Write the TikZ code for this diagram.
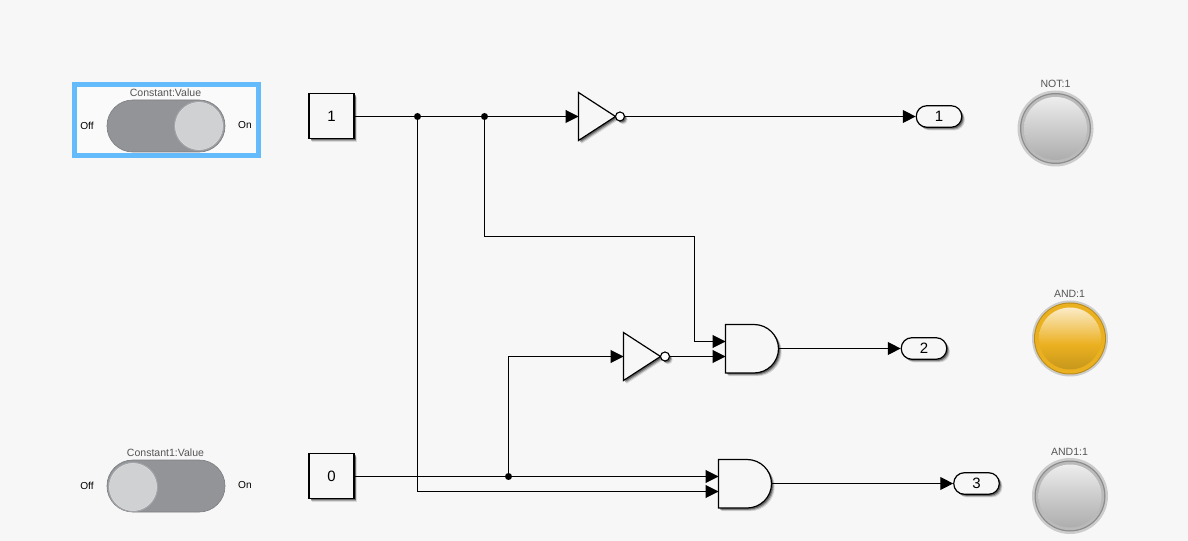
\documentclass[tikz,border=0pt]{standalone}
\usepackage{fontspec}
\setmainfont{Liberation Sans}
\usetikzlibrary{arrows.meta,shadows,calc}
\definecolor{bgc}{HTML}{F7F7F7}
\definecolor{selc}{HTML}{64BBFC}
\definecolor{trackc}{HTML}{939497}
\definecolor{trackedge}{HTML}{7F8083}
\definecolor{knobc}{HTML}{D0D1D3}
\definecolor{lblc}{HTML}{555555}
\definecolor{ambring}{HTML}{EBB020}
\definecolor{ambedge}{HTML}{B98C1A}
\definecolor{ambtop}{HTML}{FBEBC6}
\definecolor{ambbot}{HTML}{C6981C}
\pgfdeclareverticalshading{ambshade}{100bp}{color(0bp)=(ambbot); color(25bp)=(ambbot); color(45bp)=(ambring); color(75bp)=(ambtop); color(100bp)=(ambtop)}
\def\pxu{0.75pt}
\tikzset{
  x=0.75pt,y=-0.75pt,
  softshadow/.style={
    general shadow={shadow xshift=3.2*\pxu,shadow yshift=-3.2*\pxu,opacity=.12,fill=black,draw=none},
    general shadow={shadow xshift=2.4*\pxu,shadow yshift=-2.4*\pxu,opacity=.22,fill=black,draw=none},
    general shadow={shadow xshift=1.5*\pxu,shadow yshift=-1.5*\pxu,opacity=.38,fill=black,draw=none}},
  wire/.style={draw=black,line width=0.75pt},
  arrowwire/.style={wire,-{Triangle[length=9.6pt,width=9.6pt,fill=black]}},
  block/.style={draw=black,line width=0.9pt,fill=bgc,softshadow},
  constbox/.style={block,rectangle,inner sep=0pt,minimum width=45*\pxu,minimum height=45*\pxu,font=\fontsize{11.25pt}{12pt}\selectfont},
  outport/.style={block,rounded corners=10.5*\pxu,rectangle,inner sep=0pt,minimum width=45.5*\pxu,minimum height=21.5*\pxu,font=\fontsize{11.25pt}{12pt}\selectfont},
  junction/.style={circle,fill=black,inner sep=0pt,minimum size=7*\pxu},
  bubble/.style={circle,draw=black,line width=0.85pt,fill=white,inner sep=0pt,minimum size=9*\pxu,softshadow},
  smalltxt/.style={font=\fontsize{7.9pt}{9pt}\selectfont,text=lblc,inner sep=0pt},
  sidetxt/.style={font=\fontsize{7.6pt}{9pt}\selectfont,text=black,inner sep=0pt},
  track/.style={rounded corners=25.9*\pxu,fill=trackc,draw=trackedge,line width=0.5pt},
  knob/.style={circle,inner sep=0pt,minimum size=48*\pxu,fill=knobc,draw=white!85!knobc,line width=0.5pt},
}
\begin{document}
\begin{tikzpicture}
\useasboundingbox (0,0) rectangle (1188,541);
\fill[bgc] (0,0) rectangle (1188,541);

% --- toggle switches
\draw[selc,line width=3.2pt,fill=bgc!60!white] (74.5,84.5) rectangle (258.5,155.5);
\node[smalltxt] (clab) at (165.5,92.5) {Constant:Value};
\node[sidetxt] (coff) at (87,125.5) {Off};
\node[sidetxt] (con) at (245,125.5) {On};
\draw[track] (107,100) rectangle (225,152);
\node[knob] (cknob) at (199,126) {};
\draw[trackc!85!white,line width=0.9pt] (cknob) circle[radius=24.5];

\node[smalltxt] (c1lab) at (165.5,452.5) {Constant1:Value};
\node[sidetxt] (c1off) at (87,485.5) {Off};
\node[sidetxt] (c1on) at (245,485.5) {On};
\draw[track] (107,460) rectangle (225,512);
\node[knob] (c1knob) at (133,487) {};
\draw[trackc!85!white,line width=0.9pt] (c1knob) circle[radius=24.5];

% --- constants
\node[constbox] (b1) at (331.5,116) {1};
\node[constbox] (b0) at (331.5,476) {0};

% --- NOT gates
\draw[block] (578.5,92.5) -- (615.5,116.5) -- (578.5,140.5) -- cycle;
\coordinate (n1in) at (578.5,116.5);
\node[bubble] (n1b) at (620,116.5) {};
\draw[block] (623.5,332.5) -- (660.5,356.5) -- (623.5,380.5) -- cycle;
\coordinate (n2in) at (623.5,356.5);
\node[bubble] (n2b) at (665,356.5) {};

% --- AND gates
\draw[block] (725.5,324.5) -- (754,324.5) arc[start angle=-90,end angle=90,x radius=24.5,y radius=24.25] -- (725.5,373) -- cycle;
\coordinate (a1i1) at (725.5,341.5);
\coordinate (a1i2) at (725.5,356.5);
\coordinate (a1o) at (778.5,348.5);
\draw[block] (718.5,459.5) -- (747,459.5) arc[start angle=-90,end angle=90,x radius=24.5,y radius=24.25] -- (718.5,508) -- cycle;
\coordinate (a2i1) at (718.5,476.5);
\coordinate (a2i2) at (718.5,491.5);
\coordinate (a2o) at (771.5,483.5);

% --- outports
\node[outport] (o1) at (939,116.5) {1};
\node[outport] (o2) at (924,348.5) {2};
\node[outport] (o3) at (976.5,483.5) {3};

% --- junctions
\node[junction] (j1) at (417.5,116.5) {};
\node[junction] (j2) at (484.5,116.5) {};
\node[junction] (j3) at (508.5,476.5) {};

% --- wires
\coordinate (b1o) at (354,116.5);
\coordinate (b0o) at (354,476.5);
\draw[wire] (b1o) -- (j1);
\draw[wire] (j1) -- (j2);
\draw[arrowwire] (j2) -- (n1in);
\coordinate (bend) at (694.5,236.5);
\draw[arrowwire] (j2) |- (bend) |- (a1i1);
\draw[arrowwire] (j1) |- (a2i2);
\draw[wire] (b0o) -- (j3);
\draw[arrowwire] (j3) -- (a2i1);
\draw[arrowwire] (j3) |- (n2in);
\draw[arrowwire] (n2b.east) -- (a1i2);
\draw[arrowwire] (n1b.east) -- (o1.west);
\draw[arrowwire] (a1o) -- (o2.west);
\draw[arrowwire] (a2o) -- (o3.west);

% --- lamps
\node[smalltxt] (l1lab) at (1055.5,84) {NOT:1};
\fill[black!20] (1055.5,128.5) circle[radius=38];
\fill[black!45] (1055.5,128.5) circle[radius=35.5];
\fill[black!27] (1055.5,128.5) circle[radius=34.2];
\shade[top color=black!7,bottom color=black!32,middle color=black!20] (1055.5,128.5) circle[radius=31.5];

\node[smalltxt] (l2lab) at (1069.5,293.5) {AND:1};
\fill[black!20] (1070,338.5) circle[radius=38];
\fill[ambedge] (1070,338.5) circle[radius=36];
\fill[ambring] (1070,338.5) circle[radius=35];
\shade[shading=ambshade] (1070,338.5) circle[radius=31];

\node[smalltxt] (l3lab) at (1069.5,451.5) {AND1:1};
\fill[black!20] (1070,496) circle[radius=38];
\fill[black!45] (1070,496) circle[radius=35.5];
\fill[black!27] (1070,496) circle[radius=34.2];
\shade[top color=black!7,bottom color=black!32,middle color=black!20] (1070,496) circle[radius=31.5];
\end{tikzpicture}
\end{document}
